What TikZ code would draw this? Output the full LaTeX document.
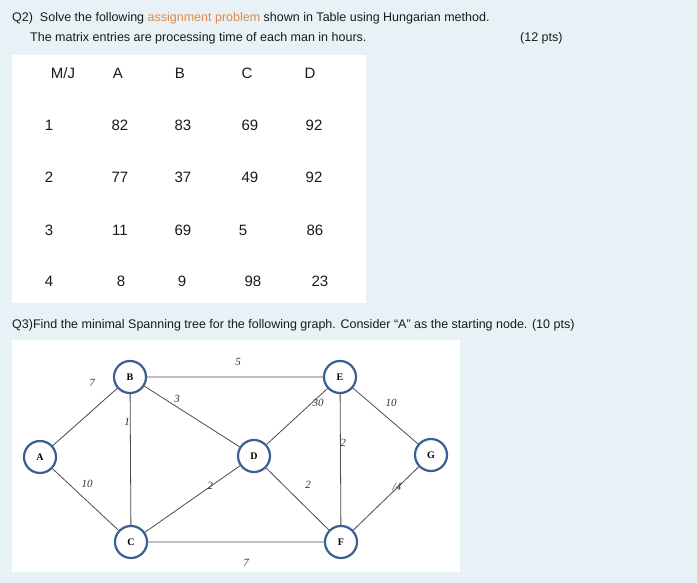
\documentclass[tikz,border=0pt]{standalone}
\usepackage{fontspec}
\setmainfont{Liberation Sans}
\newfontfamily\serifit{Liberation Serif}
\definecolor{bg}{HTML}{E8F2F6}
\definecolor{ora}{HTML}{E0894A}
\definecolor{txt}{HTML}{1A1A1A}
\definecolor{nb}{HTML}{3B5E95}
\begin{document}
\begin{tikzpicture}[x=1pt,y=-1pt,
  tx/.style={anchor=base west,inner sep=0,font=\fontsize{12.5}{14}\selectfont,text=txt},
  cell/.style={anchor=base,inner sep=0,font=\fontsize{15}{17}\selectfont,text=txt},
  vx/.style={circle,draw=nb,line width=2.2pt,fill=white,minimum size=32,inner sep=0,font=\serifit\bfseries\fontsize{10}{12}\selectfont},
  ed/.style={draw=black!70,line width=0.8pt},
  wl/.style={inner sep=0,font=\serifit\itshape\fontsize{11}{12}\selectfont,text=black!80}]
\fill[bg] (0,0) rectangle (697,583);
\useasboundingbox (0,0) rectangle (697,583);
\fill[white] (12,55) rectangle (366,303);
\fill[white] (12,340) rectangle (460,572);
\node[tx] (l1) at (12,22) {Q2)\ \ Solve the following \textcolor{ora}{assignment problem} shown in Table using Hungarian method.};
\node[tx] (l2) at (30,42) {The matrix entries are processing time of each man in hours.};
\node[tx] (pts) at (520,42) {(12 pts)};
\node[tx] (q3) at (12,328) {Q3)Find the minimal Spanning tree for the following graph. Consider “A” as the starting node. (10 pts)};
% table
\node[cell] (h0) at (63,79) {M/J};
\foreach \t/\x in {A/118,B/180,C/247,D/310} \node[cell] at (\x,79) {\t};
\node[cell] (r1) at (49,131) {1};
\node[cell] at (120,131) {82};\node[cell] at (183,131) {83};\node[cell] at (250,131) {69};\node[cell] at (314,131) {92};
\node[cell] (r2) at (49,183) {2};
\node[cell] at (120,183) {77};\node[cell] at (183,183) {37};\node[cell] at (250,183) {49};\node[cell] at (314,183) {92};
\node[cell] (r3) at (49,236) {3};
\node[cell] at (120,236) {11};\node[cell] at (183,236) {69};\node[cell] at (243,236) {5};\node[cell] at (315,236) {86};
\node[cell] (r4) at (49,287) {4};
\node[cell] at (121,287) {8};\node[cell] at (182,287) {9};\node[cell] at (253,287) {98};\node[cell] at (320,287) {23};
% graph
\node[vx] (A) at (40,457) {A};
\node[vx] (B) at (130,377) {B};
\node[vx] (C) at (131,542) {C};
\node[vx] (D) at (254,456) {D};
\node[vx] (E) at (340,377) {E};
\node[vx] (F) at (341,542) {F};
\node[vx] (G) at (431,455) {G};
\path[ed] (A)--(B) (A)--(C) (B)--(C) (B)--(D) (B)--(E) (C)--(D) (C)--(F) (D)--(E) (D)--(F) (E)--(F) (E)--(G) (F)--(G);
\node[wl] at (92,383) {7};
\node[wl] at (127,422) {1};
\node[wl] at (177,399) {3};
\node[wl] at (238,362) {5};
\node[wl] at (318,403) {30};
\node[wl] at (391,403) {10};
\node[wl] at (343,443) {2};
\node[wl] at (87,484) {10};
\node[wl] at (210,486) {2};
\node[wl] at (308,485) {2};
\node[wl] at (397,487) {/4};
\node[wl] at (246,563) {7};
\end{tikzpicture}
\end{document}
